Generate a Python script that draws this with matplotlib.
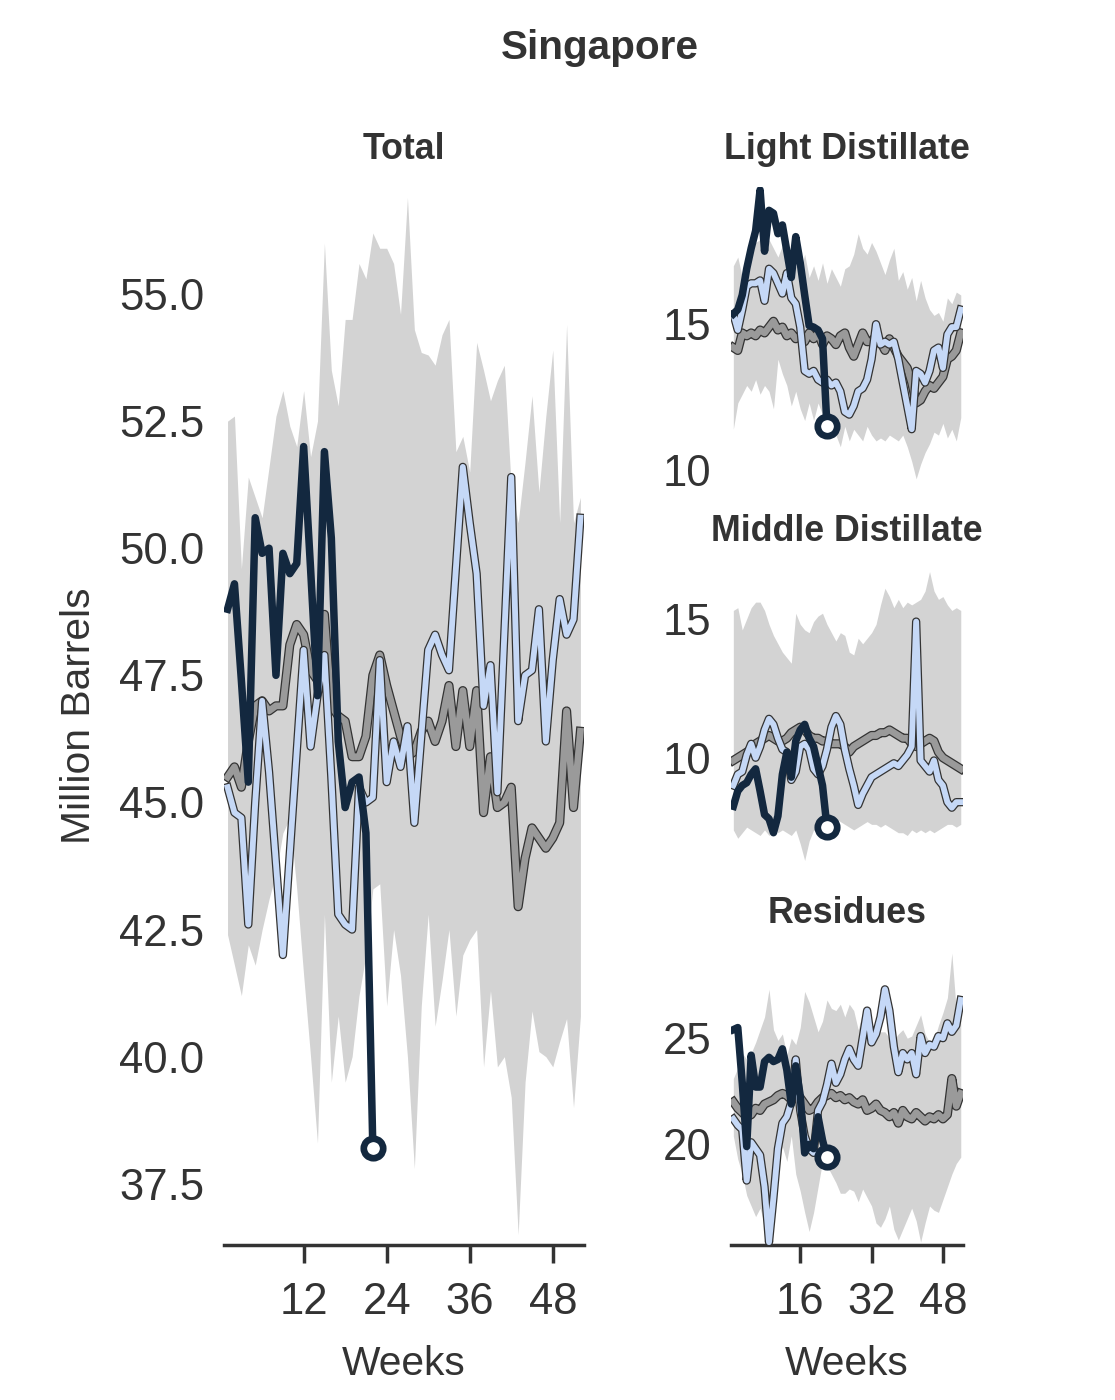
import matplotlib
matplotlib.use("Agg")
import matplotlib.pyplot as plt
import matplotlib.patheffects as pe

# 全体のスタイル設定
plt.rcParams['font.family'] = ['Liberation Sans', 'DejaVu Sans']
plt.rcParams['text.color'] = '#333333'
plt.rcParams['axes.labelcolor'] = '#333333'
plt.rcParams['axes.edgecolor'] = '#333333'
plt.rcParams['xtick.color'] = '#333333'
plt.rcParams['ytick.color'] = '#333333'
plt.rcParams['axes.linewidth'] = 1.25

# ---- data ----
weeks = list(range(1, 53))

total_max = [52.5, 52.6, 49.6, 51.4, 51.0, 50.6, 51.6, 52.6, 53.1, 52.4, 52.0, 53.1, 51.8, 52.5, 56.0, 53.5,
             52.8, 54.5, 54.5, 55.6, 55.3, 56.2, 55.9, 55.9, 55.6, 54.6, 56.9, 54.3, 53.85, 53.8, 53.6, 54.2,
             54.5, 51.9, 52.2, 51.5, 54.05, 53.5, 52.9, 53.3, 53.6, 51.2, 50.5, 51.7, 53.0, 51.1, 52.6, 53.9,
             50.5, 54.4, 50.5, 51.0]
total_min = [42.4, 41.8, 41.2, 42.2, 41.8, 42.5, 43.1, 43.6, 44.4, 44.7, 43.3, 41.6, 40.0, 38.3, 42.8, 39.5,
             40.8, 39.5, 40.0, 41.2, 42.0, 43.3, 43.4, 41.0, 42.5, 41.6, 40.0, 37.8, 41.0, 42.8, 40.6, 41.5,
             42.5, 40.8, 42.0, 42.3, 42.5, 39.8, 41.3, 39.8, 40.0, 39.2, 36.5, 39.5, 40.9, 40.1, 40.0, 39.8,
             40.3, 40.75, 39.0, 40.8]
total_avg = [45.5, 45.7, 45.3, 46.2, 46.9, 47.0, 46.8, 46.9, 46.9, 48.1, 48.5, 48.3, 47.6, 47.4, 48.7, 46.9,
             46.7, 46.6, 45.9, 45.9, 46.3, 47.5, 47.9, 47.3, 46.8, 46.3, 45.9, 46.0, 46.4, 46.6, 46.2, 46.6,
             47.3, 46.1, 47.2, 46.1, 47.2, 44.8, 45.9, 44.9, 45.0, 45.3, 42.95, 43.9, 44.5, 44.3, 44.1, 44.3,
             44.6, 46.8, 44.9, 46.4]
total_last = [45.3, 44.8, 44.7, 42.6, 45.0, 47.0, 45.6, 43.8, 42.0, 44.0, 46.0, 48.0, 46.1, 47.1, 47.9, 45.5,
              42.8, 42.6, 42.5, 45.3, 45.0, 45.1, 47.8, 45.4, 46.2, 45.7, 46.5, 44.6, 46.3, 48.0, 48.3, 47.9,
              47.6, 49.6, 51.6, 50.5, 49.5, 46.9, 47.7, 45.2, 48.3, 51.4, 46.6, 47.5, 47.6, 48.8, 46.2, 47.8,
              49.0, 48.3, 48.6, 50.6]
total_curr = [48.8, 49.3, 47.4, 45.4, 50.6, 49.9, 50.0, 47.5, 49.9, 49.5, 49.7, 52.0, 49.6, 47.1, 51.9, 50.2,
              46.2, 44.9, 45.4, 45.5, 44.4, 38.2]

ld_max = [17.0, 17.3, 16.6, 17.0, 17.5, 17.8, 17.9, 17.5, 17.9, 17.6, 17.3, 17.7, 17.2, 17.5, 17.0, 16.8,
          17.4, 16.6, 17.0, 16.5, 17.1, 16.4, 16.9, 16.6, 16.3, 16.9, 17.0, 17.4, 18.1, 17.6, 17.4, 17.8,
          17.5, 17.1, 16.7, 17.2, 17.6, 16.5, 16.8, 16.2, 16.6, 15.8, 16.5, 15.9, 15.5, 15.3, 15.4, 15.1,
          15.9, 15.7, 16.1, 16.0]
ld_min = [11.4, 12.3, 12.6, 12.9, 12.7, 13.1, 12.6, 12.9, 12.7, 12.1, 13.8, 13.3, 12.9, 12.2, 12.7, 12.1,
          11.7, 12.3, 11.7, 12.3, 11.9, 11.6, 11.4, 11.2, 10.8, 11.5, 11.0, 11.4, 11.2, 11.0, 11.5, 11.2,
          11.0, 11.1, 11.0, 11.2, 11.1, 11.0, 11.2, 10.8, 10.3, 9.7, 10.2, 10.6, 10.9, 11.3, 11.2, 11.6,
          11.1, 11.4, 11.0, 11.8]
ld_avg = [14.2, 14.1, 14.7, 14.6, 14.7, 14.6, 14.8, 14.7, 14.9, 15.1, 14.8, 14.9, 14.6, 14.7, 14.5, 14.6,
          14.4, 14.7, 14.5, 14.7, 14.3, 14.6, 14.5, 14.3, 14.6, 14.7, 14.2, 13.9, 14.3, 14.7, 14.4, 14.4,
          14.6, 14.4, 14.1, 14.5, 14.2, 13.9, 13.7, 13.5, 13.0, 12.3, 12.4, 12.7, 12.9, 12.8, 13.0, 13.2,
          13.8, 13.9, 14.1, 14.7]
ld_last = [15.35, 14.8, 15.5, 16.3, 16.4, 16.4, 16.5, 15.8, 16.9, 16.75, 16.4, 16.05, 16.75, 15.9, 15.7, 14.9,
           13.4, 13.3, 13.4, 13.1, 13.0, 13.1, 12.9, 13.0, 12.7, 12.0, 11.9, 12.2, 12.7, 12.8, 13.1, 13.8,
           15.0, 14.3, 14.4, 14.3, 14.4, 13.8, 13.0, 12.2, 11.4, 13.4, 13.3, 13.0, 13.4, 14.1, 14.2, 13.5,
           14.65, 14.9, 14.9, 15.5]
ld_curr = [15.35, 15.5, 16.0, 16.9, 17.6, 18.2, 19.6, 17.5, 18.9, 18.8, 18.1, 18.4, 17.5, 16.6, 18.0, 17.1,
           16.0, 14.95, 14.9, 14.8, 14.5, 11.5]

md_max = [15.3, 15.4, 14.6, 15.0, 15.4, 15.6, 15.6, 15.3, 14.8, 14.4, 14.1, 13.8, 13.6, 13.4, 15.2, 14.8,
          14.6, 14.5, 14.9, 15.1, 15.2, 14.8, 14.5, 14.2, 14.5, 14.4, 13.8, 13.7, 14.3, 14.1, 14.3, 14.5,
          14.8, 15.5, 16.1, 15.8, 15.4, 15.7, 15.4, 15.6, 15.5, 15.6, 15.7, 16.0, 16.7, 16.0, 15.7, 15.8,
          15.5, 15.3, 15.4, 15.3]
md_min = [7.4, 7.1, 7.3, 7.5, 7.4, 7.3, 7.2, 7.4, 7.2, 7.5, 7.3, 7.4, 7.3, 7.2, 7.4, 6.9,
          6.3, 7.0, 7.4, 7.4, 7.6, 7.7, 7.7, 7.8, 7.7, 7.6, 7.5, 7.4, 7.5, 7.6, 7.7, 7.6,
          7.6, 7.5, 7.6, 7.5, 7.4, 7.3, 7.3, 7.2, 7.4, 7.3, 7.4, 7.3, 7.4, 7.3, 7.4, 7.5,
          7.6, 7.6, 7.5, 7.6]
md_avg = [9.9, 10.0, 10.1, 10.2, 10.3, 10.5, 10.6, 10.7, 10.8, 10.7, 10.6, 10.6, 10.7, 10.9, 11.0, 11.1,
          11.0, 10.8, 10.7, 10.7, 10.6, 10.6, 10.5, 10.5, 10.5, 10.4, 10.2, 10.4, 10.5, 10.6, 10.7, 10.8,
          10.8, 10.9, 10.9, 11.0, 10.9, 10.8, 10.7, 10.7, 10.5, 10.4, 10.5, 10.6, 10.7, 10.6, 10.2, 10.0,
          9.9, 9.8, 9.7, 9.6]
md_last = [9.0, 9.4, 9.5, 10.1, 10.5, 10.0, 10.4, 11.0, 11.4, 11.2, 10.7, 10.3, 10.2, 9.2, 9.5, 10.4,
           10.5, 10.3, 9.6, 9.4, 9.7, 10.3, 11.1, 11.5, 11.2, 10.3, 9.6, 9.0, 8.3, 8.7, 9.0, 9.3,
           9.4, 9.5, 9.6, 9.7, 9.8, 9.7, 9.9, 10.1, 10.4, 14.9, 9.9, 9.7, 9.5, 9.9, 9.2, 9.0,
           8.4, 8.2, 8.4, 8.4]
md_curr = [8.25, 8.8, 9.0, 9.1, 9.4, 9.6, 8.8, 7.95, 7.8, 7.3, 7.9, 9.4, 10.2, 9.3, 10.6, 11.0,
           11.2, 10.7, 10.4, 9.7, 9.0, 7.5]

res_max = [23.1, 23.6, 24.3, 24.0, 24.3, 24.8, 25.4, 26.0, 27.3, 25.4, 24.9, 25.2, 24.2, 25.0, 24.7, 25.5,
           27.2, 26.7, 26.0, 25.3, 25.8, 26.8, 26.4, 26.3, 26.6, 26.0, 26.6, 26.3, 25.4, 26.2, 25.8, 25.6,
           25.5, 25.3, 25.3, 25.0, 24.9, 25.2, 25.4, 25.0, 25.1, 25.6, 26.1, 25.2, 24.8, 24.9, 25.6, 26.2,
           26.9, 29.0, 26.3, 26.4]
res_min = [20.4, 19.3, 18.6, 17.6, 17.1, 16.6, 17.0, 16.2, 15.4, 16.5, 18.9, 19.9, 19.2, 20.4, 18.6, 17.8,
           16.8, 15.9, 16.8, 18.0, 19.2, 19.0, 18.6, 18.2, 17.7, 17.7, 17.9, 17.8, 17.3, 17.9, 17.5, 17.1,
           16.3, 16.1, 16.5, 17.1, 16.0, 15.5, 16.0, 16.5, 17.0, 16.4, 15.4, 16.3, 17.1, 16.9, 16.8, 17.4,
           18.0, 18.6, 19.1, 19.4]
res_avg = [22.0, 21.7, 21.5, 21.3, 21.4, 21.7, 21.6, 21.9, 22.0, 22.1, 22.3, 22.4, 22.3, 22.1, 22.3, 22.2,
           21.9, 21.6, 21.7, 22.0, 22.2, 22.3, 22.4, 22.2, 22.3, 22.1, 22.2, 22.0, 21.9, 22.1, 21.6, 21.7,
           21.9, 21.6, 21.5, 21.3, 21.5, 21.0, 21.6, 21.3, 21.2, 21.5, 21.3, 21.1, 21.3, 21.2, 21.4, 21.2,
           21.4, 23.1, 21.8, 22.4]
res_last = [21.2, 20.9, 20.7, 18.3, 20.1, 19.8, 19.5, 18.0, 15.4, 17.5, 19.8, 21.0, 21.3, 22.0, 24.0, 21.6,
            20.4, 19.8, 19.6, 21.6, 22.0, 22.8, 23.8, 22.9, 23.3, 24.0, 24.5, 24.0, 23.7, 25.0, 26.3, 24.8,
            25.2, 26.0, 27.3, 26.3, 24.6, 23.4, 24.3, 24.0, 24.3, 23.3, 25.1, 24.3, 24.7, 24.6, 25.1, 25.0,
            25.7, 25.3, 25.6, 26.8]
res_curr = [25.4, 25.5, 22.9, 19.9, 24.2, 22.7, 22.7, 23.9, 24.1, 23.9, 24.0, 24.5, 23.5, 21.9, 23.7, 22.3,
            19.6, 20.0, 19.8, 21.3, 20.2, 19.4]

total_yticks = [37.5, 40.0, 42.5, 45.0, 47.5, 50.0, 52.5, 55.0]
ld_yticks = [10, 15]
md_yticks = [10, 15]
res_yticks = [20, 25]
left_xticks = [12, 24, 36, 48]
right_xticks = [16, 32, 48]

# ---- colours ----
band_c = '#d3d3d3'
avg_c = '#9a9a9a'
last_c = '#c5d8f6'
curr_c = '#13283f'
edge_c = '#333333'


def draw(ax, lo, hi, avg, last, curr, title):
    ax.fill_between(weeks, lo, hi, color=band_c, lw=0, zorder=1)
    ax.plot(weeks, avg, color=avg_c, lw=2.4, zorder=2,
            path_effects=[pe.Stroke(linewidth=3.3, foreground=edge_c), pe.Normal()])
    ax.plot(weeks, last, color=last_c, lw=2.1, zorder=3,
            path_effects=[pe.Stroke(linewidth=3.0, foreground=edge_c), pe.Normal()])
    n = len(curr)
    ax.plot(weeks[:n], curr, color=curr_c, lw=2.7, zorder=4)
    ax.plot(weeks[n - 1], curr[-1], 'o', ms=7, mfc='white', mec=curr_c, mew=2.4, zorder=5)
    ax.set_title(title, fontsize=12.9, fontweight='bold', pad=10)
    for s in ['top', 'right', 'left']:
        ax.spines[s].set_visible(False)
    ax.margins(x=0.01, y=0.01)
    ax.tick_params(axis='y', length=0, pad=7, labelsize=15.7)
    ax.tick_params(axis='x', length=6.3, width=1.25, pad=7, labelsize=15.7, direction='out')


fig = plt.figure(figsize=(5.575, 7.0), dpi=200)
gs = fig.add_gridspec(3, 2, left=0.2009, right=0.8637, top=0.8664, bottom=0.1107,
                      wspace=0.497, hspace=0.295, width_ratios=[360, 232])

ax0 = fig.add_subplot(gs[:, 0])
draw(ax0, total_min, total_max, total_avg, total_last, total_curr, 'Total')
ax0.set_yticks(total_yticks)
ax0.set_yticklabels([f"{v:.1f}" for v in total_yticks])
ax0.set_xticks(left_xticks)
ax0.set_xlabel('Weeks', fontsize=14.7, labelpad=8)
ax0.set_ylabel('Million Barrels', fontsize=14.7, labelpad=7.5)

right = [(ld_min, ld_max, ld_avg, ld_last, ld_curr, 'Light Distillate', ld_yticks),
         (md_min, md_max, md_avg, md_last, md_curr, 'Middle Distillate', md_yticks),
         (res_min, res_max, res_avg, res_last, res_curr, 'Residues', res_yticks)]
for i, (lo, hi, av, la, cu, title, yt) in enumerate(right):
    ax = fig.add_subplot(gs[i, 1])
    draw(ax, lo, hi, av, la, cu, title)
    ax.set_yticks(yt)
    ax.set_xticks(right_xticks)
    if i < 2:
        ax.spines['bottom'].set_visible(False)
        ax.tick_params(axis='x', bottom=False, labelbottom=False)
    else:
        ax.set_xlabel('Weeks', fontsize=14.7, labelpad=8)

fig.suptitle('Singapore', x=0.538, y=0.9657, va='center', fontsize=14.6, fontweight='bold')

fig.savefig('out.png', dpi=200)
